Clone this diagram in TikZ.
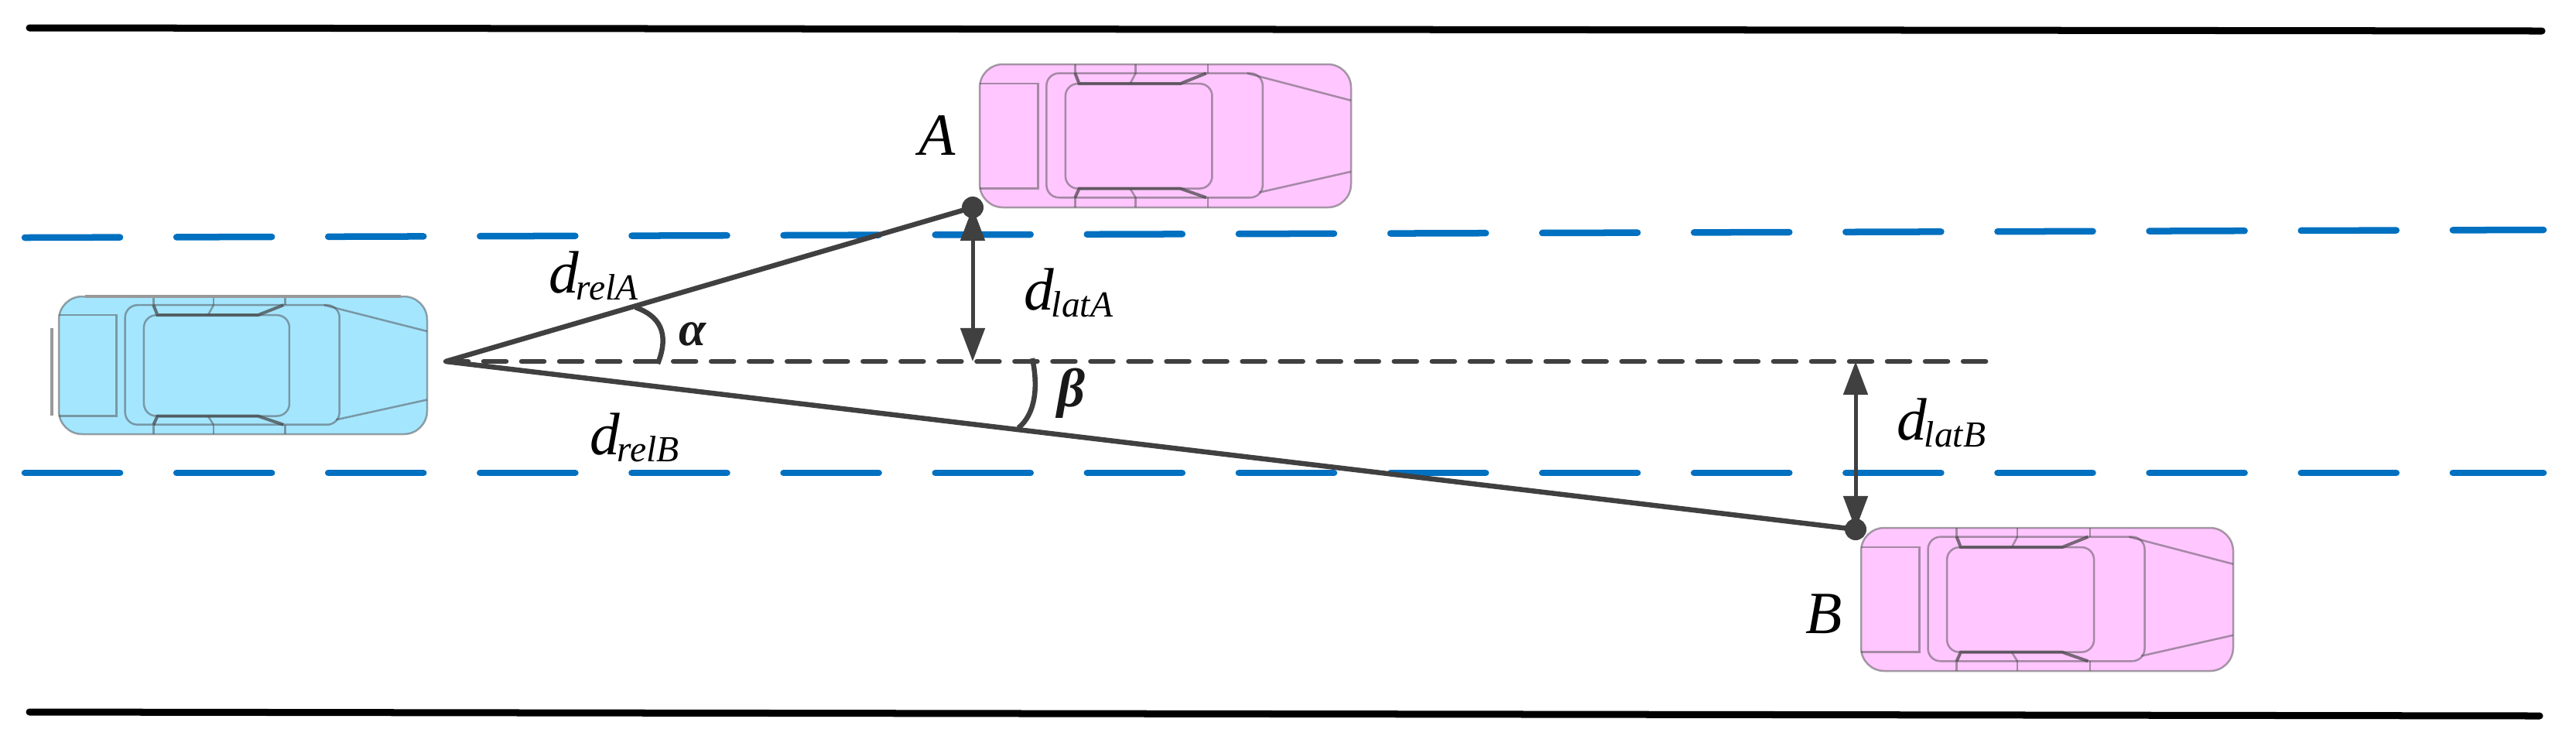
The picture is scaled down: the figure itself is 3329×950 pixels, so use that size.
\documentclass[tikz,border=0pt]{standalone}
\usepackage{fontspec}
\setmainfont{Liberation Serif}
\usetikzlibrary{arrows.meta}
\definecolor{laneblue}{RGB}{0,112,192}
\definecolor{cardark}{RGB}{64,64,64}
\definecolor{carblue}{RGB}{165,230,255}
\definecolor{carpink}{RGB}{255,198,255}
\tikzset{
 edge/.style={black, line width=.09cm, line cap=round},
 lane/.style={laneblue, line width=.085cm, line cap=round, dash pattern=on 1.23cm off .73cm},
 ray/.style={cardark, line width=.065cm},
 gap/.style={cardark, line width=.05cm, {Triangle[length=.43cm,width=.31cm]}-{Triangle[length=.43cm,width=.31cm]}},
 tick/.style={black!70, draw opacity=.5, line width=.025cm},
 trim/.style={black!75, draw opacity=.7, line width=.04cm},
 ghost/.style={black!40, line width=.035cm},
 lab/.style={inner sep=0, anchor=base west, font=\fontsize{22}{22}\selectfont\itshape},
 greek/.style={lab, cardark!40!black, font=\fontsize{#1}{#1}\selectfont\itshape\bfseries},
}
\newcommand{\dsub}[2]{d\kern-1pt\raisebox{-2.6pt}{\fontsize{13.5}{13.5}\selectfont #1#2}}
% left, top, width/100, height/100, fill
\newcommand{\carbody}[5]{
 \begin{scope}[shift={(#1,#2)}, xscale=#3, yscale=#4]
 \draw[tick, fill=#5, rounded corners=.3cm] (0,0) rectangle (100,100);
 \draw[tick] (0,13.6) -- (15.7,13.6) -- (15.7,86.8) -- (0,86.8);
 \draw[tick, rounded corners=.16cm] (18,6.3) rectangle (76.2,93.1);
 \draw[tick, rounded corners=.16cm] (23.1,13.6) rectangle (62.6,86.8);
 \draw[tick] (72,6.3) -- (100,25.3);
 \draw[tick] (75.3,89.5) -- (100,75);
 \foreach \u in {25.7, 42, 61.5} {
  \draw[tick] (\u,0) --++(0,6.3);
  \draw[tick] (\u,93.1) --++(0,6.9);
 }
 \draw[trim] (25.7,6.3) -- (26.8,13.6) -- (54,13.6) -- (61,6.3);
 \draw[trim] (25.7,93.1) -- (26.8,86.8) -- (54,86.8) -- (61,93.1);
 \draw[tick] (42,6.3) -- (40.5,13.6);
 \draw[tick] (42,93.1) -- (40.5,86.8);
 \end{scope}
}
\begin{document}
\begin{tikzpicture}[x=.01cm, y=-.01cm]
\useasboundingbox (0,0) rectangle (3329,950);
\coordinate (O) at (576,467);
\coordinate (A) at (1257,268);
\coordinate (B) at (2398,684);
\coordinate (footA) at (1257,467);
\coordinate (footB) at (2398,467);
\coordinate (endO) at (2572,467);
% road
\draw[edge] (38,36) -- (3285,40);
\draw[edge] (38,920) -- (3282,925);
\draw[lane] (32,307) -- (3287,297);
\draw[lane] (32,611) -- (3287,611);
% cars
\carbody{76}{383}{4.76}{1.78}{carblue}
\carbody{1266}{83}{4.8}{1.85}{carpink}
\carbody{2405}{682}{4.81}{1.85}{carpink}
\draw[ghost] (67,424) -- (67,537);
\draw[ghost] (110,383) -- (518,383);
% geometry
\draw[ray, line cap=round, dash pattern=on .29cm off .2cm] (O) -- (endO);
\draw[ray] (O) -- (A);
\draw[ray] (O) -- (B);
\draw[gap] (A) -- (footA);
\draw[gap] (footB) -- (B);
\fill[cardark] (A) circle (.14cm);
\fill[cardark] (B) circle (.14cm);
\draw[ray] (821,397) .. controls (852,408) and (866,430) .. (850,470);
\draw[ray] (1334,463) .. controls (1342,500) and (1338,535) .. (1316,553);
% labels
\node[lab] (labA) at (1187,200) {A};
\node[lab] (labB) at (2333,818) {B};
\node[lab] (labRelA) at (709,378) {\dsub{rel}{A}};
\node[lab] (labRelB) at (762,587) {\dsub{rel}{B}};
\node[lab] (labLatA) at (1323,400) {\dsub{lat}{A}};
\node[lab] (labLatB) at (2451,568) {\dsub{lat}{B}};
\node[greek=18] (labAlpha) at (877,446) {α};
\node[greek=20] (labBeta) at (1366,525) {β};
\end{tikzpicture}
\end{document}
